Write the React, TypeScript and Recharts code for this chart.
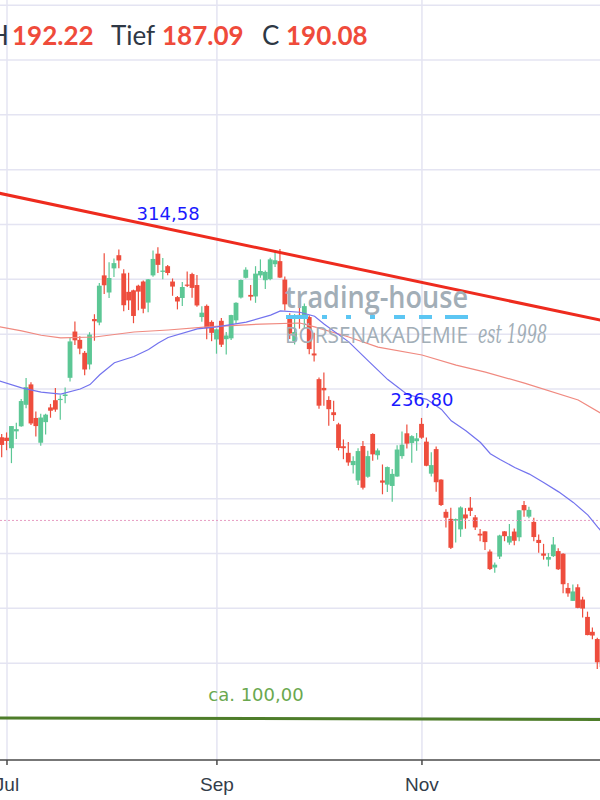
import React from "react";
import {
  ComposedChart,
  Bar,
  Line,
  XAxis,
  YAxis,
  CartesianGrid,
  ReferenceLine,
  ReferenceDot,
  Label,
} from "recharts";

// ---- categories: trading days ----
const dates = [
  "2022-06-29", "2022-06-30",
  "2022-07-01", "2022-07-05", "2022-07-06", "2022-07-07", "2022-07-08", "2022-07-11", "2022-07-12", "2022-07-13", "2022-07-14", "2022-07-15",
  "2022-07-18", "2022-07-19", "2022-07-20", "2022-07-21", "2022-07-22", "2022-07-25", "2022-07-26", "2022-07-27", "2022-07-28", "2022-07-29",
  "2022-08-01", "2022-08-02", "2022-08-03", "2022-08-04", "2022-08-05", "2022-08-08", "2022-08-09", "2022-08-10", "2022-08-11", "2022-08-12",
  "2022-08-15", "2022-08-16", "2022-08-17", "2022-08-18", "2022-08-19", "2022-08-22", "2022-08-23", "2022-08-24", "2022-08-25", "2022-08-26",
  "2022-08-29", "2022-08-30", "2022-08-31",
  "2022-09-01", "2022-09-02", "2022-09-06", "2022-09-07", "2022-09-08", "2022-09-09", "2022-09-12", "2022-09-13", "2022-09-14", "2022-09-15",
  "2022-09-16", "2022-09-19", "2022-09-20", "2022-09-21", "2022-09-22", "2022-09-23", "2022-09-26", "2022-09-27", "2022-09-28", "2022-09-29",
  "2022-09-30",
  "2022-10-03", "2022-10-04", "2022-10-05", "2022-10-06", "2022-10-07", "2022-10-10", "2022-10-11", "2022-10-12", "2022-10-13", "2022-10-14",
  "2022-10-17", "2022-10-18", "2022-10-19", "2022-10-20", "2022-10-21", "2022-10-24", "2022-10-25", "2022-10-26", "2022-10-27", "2022-10-28",
  "2022-10-31",
  "2022-11-01", "2022-11-02", "2022-11-03", "2022-11-04", "2022-11-07", "2022-11-08", "2022-11-09", "2022-11-10", "2022-11-11", "2022-11-14",
  "2022-11-15", "2022-11-16", "2022-11-17", "2022-11-18", "2022-11-21", "2022-11-22", "2022-11-23", "2022-11-25", "2022-11-28", "2022-11-29",
  "2022-11-30",
  "2022-12-01", "2022-12-02", "2022-12-05", "2022-12-06", "2022-12-07", "2022-12-08", "2022-12-09", "2022-12-12", "2022-12-13", "2022-12-14",
  "2022-12-15", "2022-12-16", "2022-12-19", "2022-12-20", "2022-12-21", "2022-12-22", "2022-12-23",
];

// ---- series values (OHLC) ----
const opens = [
  230.5, 228.0,
  227.8, 223.0, 230.7, 233.0, 242.8, 252.1, 236.8, 225.5, 234.9, 241.6,
  244.9, 245.0, 246.8, 255.1, 276.2, 272.4, 266.5, 261.2, 281.9, 280.3,
  301.8, 294.0, 305.0, 311.0, 302.7, 294.3, 295.0, 297.1, 299.0, 289.4,
  301.8, 311.7, 303.4, 306.0, 299.0, 291.9, 291.5, 297.6, 302.4, 297.4,
  282.8, 287.9, 280.6,
  272.6, 281.1, 272.7, 273.1, 281.3, 291.7, 300.7, 292.9, 292.2, 301.8,
  299.6, 300.1, 306.9, 308.3, 299.9, 283.1, 271.8, 283.8, 283.1, 282.8,
  266.2,
  254.5, 250.5, 245.0, 239.4, 233.9, 223.9, 220.9, 215.3, 208.3, 224.0,
  210.0, 229.5, 219.8, 208.3, 206.4, 205.8, 210.1, 219.4, 229.8, 225.4,
  226.2,
  234.1, 226.0, 211.4, 222.6, 208.7, 194.0, 190.8, 189.9, 186.0, 192.8,
  195.9, 191.5, 184.0, 185.1, 175.9, 168.6, 173.6, 185.1, 180.0, 185.0,
  182.4,
  197.1, 191.8, 189.4, 181.2, 175.0, 172.2, 173.8, 176.1, 174.9, 159.3,
  153.4, 159.6, 154.0, 146.1, 139.3, 136.0, 126.4,
];
const highs = [
  231.2, 229.5,
  230.2, 233.1, 234.6, 245.4, 255.0, 253.1, 239.8, 238.7, 238.7, 243.2,
  250.5, 247.1, 250.7, 273.3, 280.8, 274.1, 267.3, 275.9, 284.1, 298.3,
  311.9, 307.8, 309.5, 313.6, 304.6, 303.0, 295.3, 297.5, 299.5, 300.2,
  313.1, 314.6, 309.7, 306.5, 300.4, 292.4, 298.8, 303.6, 303.0, 302.0,
  287.7, 288.5, 281.3,
  277.6, 282.4, 276.0, 283.8, 289.5, 299.9, 305.5, 297.4, 306.0, 309.1,
  304.0, 309.8, 313.3, 313.8, 301.3, 284.5, 284.1, 288.7, 289.0, 283.6,
  275.6,
  255.2, 257.5, 246.7, 244.6, 234.6, 227.0, 225.8, 219.3, 223.0, 226.3,
  221.9, 229.8, 222.9, 215.6, 214.7, 213.5, 224.4, 230.6, 233.8, 228.9,
  229.9,
  236.8, 227.9, 221.2, 223.8, 208.9, 195.2, 195.9, 191.0, 196.5, 195.7,
  200.8, 192.6, 186.2, 185.2, 176.8, 170.9, 183.6, 185.2, 188.5, 186.4,
  194.8,
  198.9, 196.3, 191.3, 183.7, 179.4, 175.2, 182.5, 177.4, 175.1, 161.6,
  160.9, 161.0, 155.3, 148.5, 141.3, 136.6, 128.6,
];
const lows = [
  222.3, 218.9,
  222.1, 216.2, 227.2, 232.8, 241.2, 233.6, 228.4, 224.1, 229.3, 236.9,
  239.6, 236.0, 243.5, 253.4, 270.1, 265.9, 256.3, 258.9, 272.0, 279.1,
  293.3, 291.5, 301.1, 305.0, 285.5, 286.0, 280.0, 285.9, 284.5, 285.0,
  301.2, 302.9, 300.0, 301.9, 292.5, 286.3, 287.9, 296.5, 291.6, 287.5,
  280.7, 272.7, 271.8,
  266.1, 269.1, 265.7, 272.3, 279.8, 291.3, 300.4, 290.4, 289.3, 300.7,
  295.6, 299.6, 305.6, 300.6, 285.8, 272.8, 270.3, 277.5, 277.6, 265.8,
  262.5,
  241.0, 242.4, 233.3, 235.4, 222.0, 218.0, 215.0, 211.5, 206.2, 204.2,
  209.5, 217.3, 217.8, 202.0, 203.0, 198.6, 210.0, 218.2, 222.9, 216.4,
  221.9,
  227.3, 214.8, 210.1, 203.1, 196.7, 186.8, 177.1, 180.0, 182.6, 186.3,
  192.1, 185.7, 180.6, 176.6, 167.5, 166.2, 172.5, 180.6, 179.0, 178.8,
  180.6,
  191.8, 191.1, 180.6, 175.3, 172.2, 169.1, 173.4, 167.5, 156.9, 155.3,
  153.3, 150.0, 145.8, 137.7, 135.9, 122.3, 121.0,
];
const closes = [
  228.5, 224.5,
  226.3, 233.1, 231.7, 244.5, 250.8, 234.3, 233.1, 237.0, 238.3, 240.1,
  240.6, 245.5, 247.5, 271.7, 272.2, 268.4, 258.9, 274.8, 280.9, 297.1,
  297.3, 300.6, 307.4, 308.6, 288.2, 290.4, 283.3, 294.4, 286.6, 300.0,
  309.3, 306.6, 304.0, 302.9, 296.7, 289.9, 296.5, 297.1, 296.1, 288.1,
  284.8, 277.7, 275.6,
  277.2, 270.2, 274.4, 283.7, 289.3, 299.7, 304.4, 292.1, 302.6, 303.8,
  303.4, 309.1, 308.7, 300.8, 288.6, 275.3, 276.0, 282.9, 287.8, 268.2,
  265.3,
  242.4, 249.4, 240.8, 238.1, 223.1, 223.0, 216.5, 217.2, 221.7, 205.0,
  219.4, 220.2, 222.0, 207.3, 214.4, 211.3, 222.4, 224.6, 225.1, 228.5,
  227.5,
  227.8, 215.0, 215.3, 207.5, 197.1, 191.3, 177.6, 190.7, 196.0, 191.0,
  194.4, 186.9, 183.2, 180.2, 167.9, 169.9, 183.2, 182.9, 182.9, 180.8,
  194.7,
  194.7, 194.9, 182.5, 179.8, 174.0, 173.4, 179.1, 167.8, 161.0, 156.8,
  157.7, 150.2, 149.9, 137.8, 137.6, 125.4, 123.2,
];

// ---- moving averages (read points) ----
const blueMaDates = [
  "2022-06-29", "2022-07-07", "2022-07-13", "2022-07-19", "2022-07-25", "2022-07-27", "2022-07-29", "2022-08-03",
  "2022-08-09", "2022-08-12", "2022-08-16", "2022-08-18", "2022-08-26", "2022-09-01", "2022-09-12", "2022-09-19",
  "2022-09-21", "2022-09-27", "2022-09-30", "2022-10-04", "2022-10-11", "2022-10-17", "2022-10-21", "2022-10-27",
  "2022-11-02", "2022-11-07", "2022-11-09", "2022-11-14", "2022-11-17", "2022-11-21", "2022-11-23", "2022-11-29",
  "2022-12-02", "2022-12-07", "2022-12-12", "2022-12-15", "2022-12-20", "2022-12-22", "2022-12-23",
];
const blueMaValues = [
  254.0, 250.5, 248.6, 247.7, 250.0, 252.0, 256.5, 262.0,
  264.8, 268.0, 271.0, 273.5, 277.4, 278.3, 280.5, 283.7,
  285.6, 285.0, 283.2, 279.5, 271.5, 262.8, 254.3, 247.5,
  245.3, 240.7, 235.5, 231.0, 225.6, 220.5, 217.9, 214.2,
  211.2, 207.3, 203.1, 198.3, 192.5, 187.0, 184.5,
];
const redMaDates = [
  "2022-06-29", "2022-07-07", "2022-07-13", "2022-07-19", "2022-07-28", "2022-08-09", "2022-08-18", "2022-08-30",
  "2022-09-15", "2022-09-27", "2022-09-30", "2022-10-11", "2022-10-19", "2022-11-01", "2022-11-10", "2022-11-18",
  "2022-12-01", "2022-12-16", "2022-12-23",
];
const redMaValues = [
  278.6, 276.5, 274.5, 273.3, 273.7, 276.0, 276.9, 278.3,
  279.6, 280.1, 278.3, 273.7, 269.1, 265.5, 260.9, 257.7,
  252.7, 245.0, 238.5,
];

// ---- tick labels, grid values, drawn lines ----
const monthTickDates = ["2022-07-01", "2022-09-01", "2022-11-01"];
const monthTickLabels = ["Jul", "Sep", "Nov"];
const priceGrid = [100, 125, 150, 175, 200, 225, 250, 275, 300, 325, 350, 375, 400, 425];
const trendDates = ["2022-06-29", "2022-12-23"];
const trendPrices = [339.45, 281.2];
const supportDates = ["2022-06-29", "2022-12-23"];
const supportPrices = [100.05, 99.3];
const lastPrice = 190.08;
const headerLabels = ["H", "Tief", "C"];
const headerValues = ["192.22", "187.09", "190.08"];

const annotations = [
  { text: "314,58", date: "2022-08-18", price: 330, color: "#1a1aff" },
  { text: "236,80", date: "2022-11-01", price: 245, color: "#1a1aff" },
  { text: "ca. 100,00", date: "2022-09-14", price: 110.5, color: "#6aa84f" },
];

const ORIGIN = dates.indexOf("2022-07-01");
const idx = (d: string) => dates.indexOf(d) - ORIGIN;

const candles = dates.map((d, k) => ({
  i: k - ORIGIN,
  o: opens[k],
  h: highs[k],
  l: lows[k],
  c: closes[k],
}));
const blueMa = blueMaDates.map((d, k) => ({ i: idx(d), v: blueMaValues[k] }));
const redMa = redMaDates.map((d, k) => ({ i: idx(d), v: redMaValues[k] }));
const monthTicks = monthTickDates.map(idx);

const GREEN = "#5cc795";
const RED = "#ee4d3d";

const Candle = (props: any) => {
  const { x, y, width, height, payload } = props;
  if (!payload || x == null || y == null) return null;
  const { o, h, l, c } = payload;
  const top = Math.min(y, y + height);
  const bot = Math.max(y, y + height);
  const ratio = h - l > 0 ? (bot - top) / (h - l) : 0;
  const cx = x + width / 2;
  const bodyTop = top + (h - Math.max(o, c)) * ratio;
  const bodyBot = top + (h - Math.min(o, c)) * ratio;
  const color = c >= o ? GREEN : RED;
  return (
    <g>
      <line x1={cx} x2={cx} y1={top} y2={bot} stroke={color} strokeWidth={1.2} />
      <rect x={cx - 2.4} y={bodyTop} width={4.8} height={Math.max(1.2, bodyBot - bodyTop)} fill={color} />
    </g>
  );
};

const headerX = { labels: [-11, 111, 262], values: [12, 162, 286] };

export default function App() {
  return (
    <div style={{ position: "absolute", left: 0, top: 0, width: 600, height: 800, background: "#fff" }}>
      <ComposedChart width={600} height={800} data={candles} margin={{ top: 0, right: 0, bottom: 0, left: 0 }}>
        <CartesianGrid
          stroke="#e4e4f2"
          strokeWidth={1.5}
          horizontalValues={priceGrid}
          verticalValues={monthTicks}
        />
        <XAxis
          type="number"
          dataKey="i"
          domain={[-1.434, 121.47]}
          allowDataOverflow
          ticks={monthTicks}
          interval={0}
          tickFormatter={(v: number) => monthTickLabels[monthTicks.indexOf(v)] ?? ""}
          height={40}
          tickSize={5}
          tickMargin={13}
          axisLine={{ stroke: "#4a4a4a", strokeWidth: 1.5 }}
          tickLine={{ stroke: "#4a4a4a", strokeWidth: 1.5 }}
          tick={{ fill: "#333d4a", fontSize: 19, fontFamily: "Liberation Sans, Arial, sans-serif" }}
        />
        <YAxis type="number" domain={[80.85, 427.36]} allowDataOverflow hide />
        <ReferenceLine y={lastPrice} stroke="#e79cc2" strokeDasharray="2 2" strokeWidth={1} />
        <Line data={redMa} dataKey="v" stroke="#f08a80" strokeWidth={1.2} dot={false} activeDot={false} isAnimationActive={false} />
        <Line data={blueMa} dataKey="v" stroke="#7373ee" strokeWidth={1.2} dot={false} activeDot={false} isAnimationActive={false} />
        <Bar
          dataKey={(d: any) => [d.l, d.h]}
          barSize={4}
          shape={Candle}
          isAnimationActive={false}
        />
        <ReferenceLine
          segment={[
            { x: idx(trendDates[0]), y: trendPrices[0] },
            { x: idx(trendDates[1]), y: trendPrices[1] },
          ]}
          stroke="#ee2b1e"
          strokeWidth={3}
          ifOverflow="visible"
        />
        <ReferenceLine
          segment={[
            { x: idx(supportDates[0]), y: supportPrices[0] },
            { x: idx(supportDates[1]), y: supportPrices[1] },
          ]}
          stroke="#4e7d2a"
          strokeWidth={3}
          ifOverflow="visible"
        />
        {annotations.map((a) => (
          <ReferenceDot key={a.text} x={idx(a.date)} y={a.price} r={0} fill="none" stroke="none" ifOverflow="visible">
            <Label value={a.text} position="center" fill={a.color} fontSize={18} fontFamily="DejaVu Sans, sans-serif" />
          </ReferenceDot>
        ))}
      </ComposedChart>
      <svg width={600} height={800} style={{ position: "absolute", left: 0, top: 0, pointerEvents: "none" }}>
        <g fontFamily="Lato, sans-serif" fontSize={26}>
          {headerLabels.map((t, k) => (
            <text key={t} x={headerX.labels[k]} y={45} fill="#2e3845">
              {t}
            </text>
          ))}
          {headerValues.map((t, k) => (
            <text key={t} x={headerX.values[k]} y={45} fill="#ef4b3b" fontWeight={700}>
              {t}
            </text>
          ))}
        </g>
        <g>
          <text x={285} y={308} fontFamily="Open Sans, sans-serif" fontWeight={600} fontSize={31} fill="#a2aeb7" textLength={183} lengthAdjust="spacingAndGlyphs">
            trading-house
          </text>
          <g fill="#5cc6f3">
            <rect x={286} y={315} width={22} height={4} />
            <rect x={322} y={315} width={5} height={4} />
            <rect x={346} y={315} width={5} height={4} />
            <rect x={370} y={315} width={5} height={4} />
            <rect x={394} y={315} width={11} height={4} />
            <rect x={419} y={315} width={13} height={4} />
            <rect x={445} y={315} width={23} height={4} />
          </g>
          <text x={285} y={343} fontFamily="Open Sans, sans-serif" fontSize={21} fill="#a2aeb7" textLength={183} lengthAdjust="spacingAndGlyphs">
            BÖRSENAKADEMIE
          </text>
          <text x={478} y={343} fontFamily="DejaVu Serif, serif" fontStyle="italic" fontSize={26} fill="#a2aeb7" textLength={69} lengthAdjust="spacingAndGlyphs">
            est 1998
          </text>
        </g>
      </svg>
    </div>
  );
}
